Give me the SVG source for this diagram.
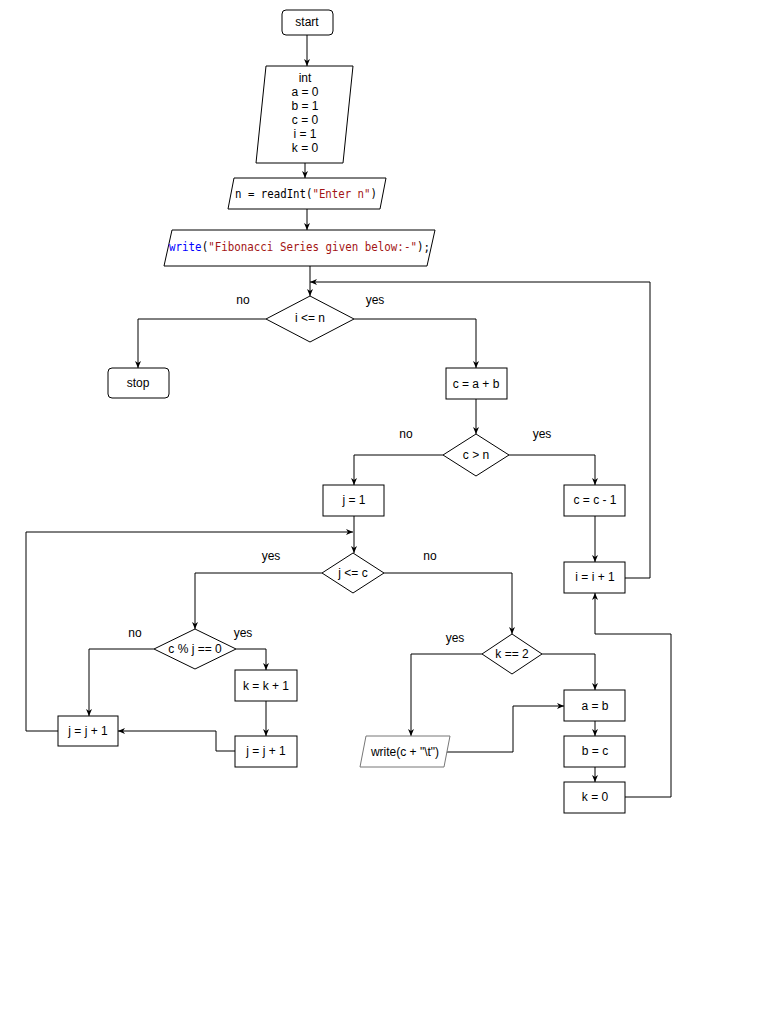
<svg xmlns="http://www.w3.org/2000/svg" width="768" height="1024" viewBox="0 0 768 1024">
<style>
.s{fill:#fff;stroke:#000;stroke-width:1}
.t{font-family:"Liberation Sans",Arial,sans-serif;font-size:12px;fill:#000;text-anchor:middle;dominant-baseline:central}
.m{font-family:"DejaVu Sans Mono","Liberation Mono",monospace;font-size:11.5px;dominant-baseline:central}
.c path{fill:none;stroke:#000;stroke-width:1;marker-end:url(#a)}
</style>
<defs><marker id="a" markerWidth="8" markerHeight="8" refX="7" refY="4" orient="auto" markerUnits="userSpaceOnUse"><path d="M0,1 L7,4 L0,7 L2,4 Z" fill="#000"/></marker></defs>
<rect width="768" height="1024" fill="#fff"/>
<g class="c">
<path d="M307,35 V66"/>
<path d="M305,163 V178"/>
<path d="M307,209 V230"/>
<path d="M310,266 V296"/>
<path d="M266,319 H138 V368"/>
<path d="M354,319 H476 V368"/>
<path d="M476,399 V434"/>
<path d="M443,455 H354 V485"/>
<path d="M509,455 H595 V485"/>
<path d="M595,516 V562"/>
<path d="M625,578 H650 V282 H310"/>
<path d="M354,516 V553"/>
<path d="M58,731 H26 V532 H353"/>
<path d="M322,573 H195 V629"/>
<path d="M384,573 H512 V634"/>
<path d="M154,649 H89 V716"/>
<path d="M236,649 H266 V670"/>
<path d="M266,701 V736"/>
<path d="M235,751 H216 V731 H118"/>
<path d="M482,654 H411 V736"/>
<path d="M542,654 H595 V690"/>
<path d="M445,752 H513 V706 H564"/>
<path d="M595,721 V736"/>
<path d="M595,767 V782"/>
<path d="M625,797 H671 V634 H595 V593"/>
</g>
<g id="start"><rect class="s" x="282" y="10" width="51" height="25" rx="4"/><text class="t" x="307" y="22">start</text></g>
<g id="init"><path class="s" d="M266,66 H353 L343,163 H256 Z"/>
<text class="t" x="305" y="78">int</text><text class="t" x="305" y="92">a = 0</text><text class="t" x="305" y="106">b = 1</text><text class="t" x="305" y="120">c = 0</text><text class="t" x="305" y="134">i = 1</text><text class="t" x="305" y="148">k = 0</text></g>
<g id="read"><path class="s" d="M234,178 H386 L380,209 H228 Z"/>
<text class="m" x="235" y="194" textLength="142" lengthAdjust="spacingAndGlyphs"><tspan fill="#000">n = readInt(</tspan><tspan fill="#a31515">"Enter n"</tspan><tspan fill="#000">)</tspan></text></g>
<g id="write1"><path class="s" d="M172,230 H435 L427,266 H164 Z"/>
<text class="m" x="169" y="247" textLength="261" lengthAdjust="spacingAndGlyphs"><tspan fill="#0000ff">write</tspan><tspan fill="#000">(</tspan><tspan fill="#a31515">"Fibonacci Series given below:-"</tspan><tspan fill="#000">);</tspan></text></g>
<g id="d1"><path class="s" d="M310,296 L354,319 L310,342 L266,319 Z"/><text class="t" x="310" y="318">i &lt;= n</text></g>
<g id="stop"><rect class="s" x="108" y="368" width="61" height="30" rx="4"/><text class="t" x="138" y="383">stop</text></g>
<g id="cab"><rect class="s" x="446" y="368" width="61" height="31"/><text class="t" x="476" y="384">c = a + b</text></g>
<g id="d2"><path class="s" d="M476,434 L509,455 L476,476 L443,455 Z"/><text class="t" x="476" y="455">c &gt; n</text></g>
<g id="j1"><rect class="s" x="323" y="485" width="61" height="31"/><text class="t" x="354" y="500">j = 1</text></g>
<g id="cc1"><rect class="s" x="564" y="485" width="61" height="31"/><text class="t" x="595" y="500">c = c - 1</text></g>
<g id="ii1"><rect class="s" x="564" y="562" width="61" height="31"/><text class="t" x="595" y="577">i = i + 1</text></g>
<g id="d3"><path class="s" d="M353,553 L384,573 L353,593 L322,573 Z"/><text class="t" x="353" y="573">j &lt;= c</text></g>
<g id="d4"><path class="s" d="M195,629 L236,649 L195,669 L154,649 Z"/><text class="t" x="195" y="649">c % j == 0</text></g>
<g id="d5"><path class="s" d="M512,634 L542,654 L512,674 L482,654 Z"/><text class="t" x="512" y="654">k == 2</text></g>
<g id="kk1"><rect class="s" x="235" y="670" width="62" height="31"/><text class="t" x="266" y="686">k = k + 1</text></g>
<g id="jj1b"><rect class="s" x="235" y="736" width="62" height="31"/><text class="t" x="266" y="751">j = j + 1</text></g>
<g id="jj1a"><rect class="s" x="58" y="716" width="60" height="30"/><text class="t" x="88" y="731">j = j + 1</text></g>
<g id="write2"><path d="M366,736 H450 L444,767 H360 Z" fill="#fff" stroke="#777"/><text class="t" x="405" y="752">write(c + "\t")</text></g>
<g id="ab"><rect class="s" x="564" y="690" width="61" height="31"/><text class="t" x="595" y="706">a = b</text></g>
<g id="bc"><rect class="s" x="564" y="736" width="61" height="31"/><text class="t" x="595" y="751">b = c</text></g>
<g id="k0"><rect class="s" x="564" y="782" width="61" height="31"/><text class="t" x="595" y="797">k = 0</text></g>
<g id="labels">
<text class="t" x="243" y="300">no</text><text class="t" x="375" y="300">yes</text>
<text class="t" x="406" y="434">no</text><text class="t" x="542" y="434">yes</text>
<text class="t" x="271" y="556">yes</text><text class="t" x="430" y="556">no</text>
<text class="t" x="135" y="633">no</text><text class="t" x="243" y="633">yes</text>
<text class="t" x="455" y="638">yes</text>
</g>
</svg>
